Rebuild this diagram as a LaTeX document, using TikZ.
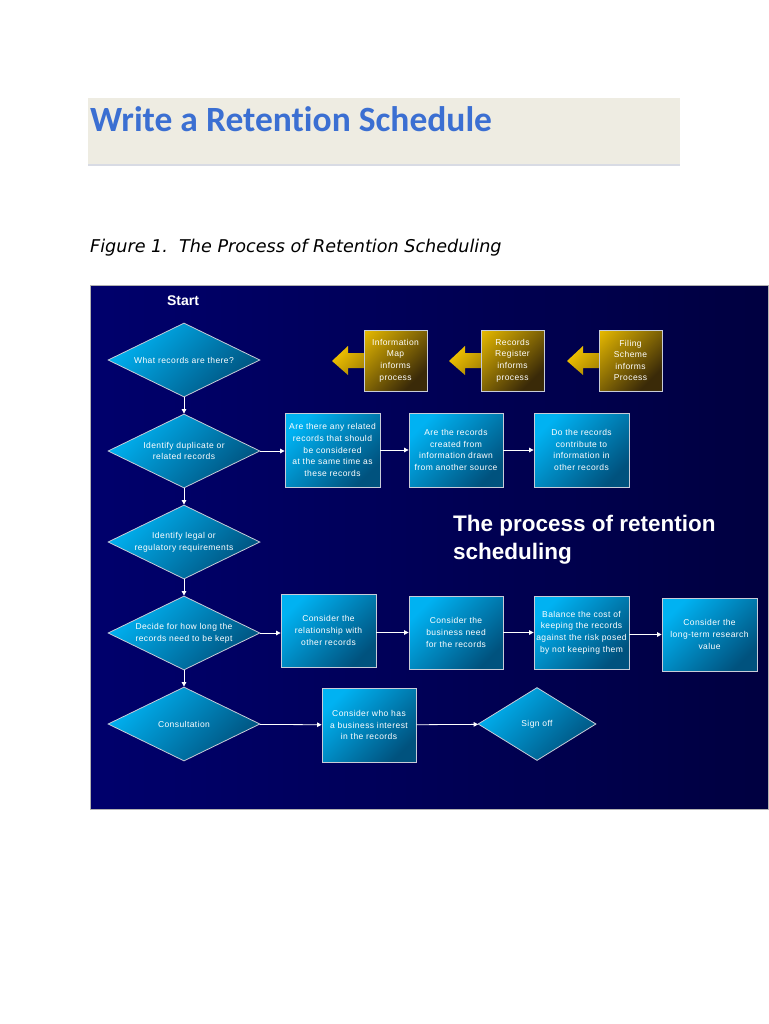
\documentclass[tikz,border=0pt]{standalone}
\usepackage{fontspec}
\setmainfont{Liberation Sans}
\newfontfamily\boxfont[LetterSpace=5]{Liberation Sans}
\newfontfamily\titlefont[Ligatures=NoCommon]{Carlito}
\newfontfamily\capfont{DejaVu Sans}
\usetikzlibrary{shapes.geometric,arrows.meta}
\definecolor{panelL}{HTML}{00006C}
\definecolor{panelR}{HTML}{000040}
\definecolor{cyanT}{HTML}{00B2F2}
\definecolor{cyanB}{HTML}{00527E}
\definecolor{goldT}{HTML}{F8C800}
\definecolor{goldB}{HTML}{3A2A08}
\definecolor{titleblue}{HTML}{3B6FD2}
\definecolor{tan}{HTML}{EEECE2}
\definecolor{edgegray}{HTML}{C8CCD8}
\tikzset{
  boxtxt/.style={text=white, font=\boxfont\fontsize{8.5}{11.6}\selectfont, align=center},
  procbox/.style={rectangle, draw=edgegray, line width=0.8pt, top color=cyanT, bottom color=cyanB, shading angle=45, inner sep=1pt, boxtxt},
  decision/.style={diamond, draw=edgegray, line width=0.8pt, top color=cyanT, bottom color=cyanB, shading angle=45, inner sep=0pt, aspect=2, minimum width=152pt, minimum height=74pt, boxtxt},
  goldbox/.style={rectangle, draw=edgegray, line width=0.8pt, minimum width=63pt, minimum height=61pt, inner sep=0pt, boxtxt},
  goldfill/.style={top color=goldT, bottom color=goldB, shading angle=45},
  arr/.style={draw=white, line width=0.8pt, -{Triangle[width=4.5pt,length=4.5pt]}}
}
\begin{document}
\begin{tikzpicture}[x=1pt,y=-1pt]
\useasboundingbox (0,0) rectangle (768,1024);
\fill[white] (0,0) rectangle (768,1024);
% title band
\fill[tan] (88,98) rectangle (680,164);
\fill[edgegray!70] (88,164) rectangle (680,166);
\node[anchor=base west, inner sep=0pt, text=titleblue, font=\titlefont\bfseries\fontsize{35.5}{40}\selectfont] (title) at (90,132) {Write a Retention Schedule};
\node[anchor=base west, inner sep=0pt, font=\capfont\itshape\fontsize{17.6}{20}\selectfont] (caption) at (90,252) {Figure 1.\ \ The Process of Retention Scheduling};
% panel
\shade[left color=panelL, right color=panelR, draw=gray!60, line width=0.6pt] (90,285) rectangle (768,809);
\node[text=white, font=\bfseries\fontsize{14}{16}\selectfont] (start) at (183,301) {Start};
\node[text=white, font=\bfseries\fontsize{22.5}{28}\selectfont, align=left, anchor=north west, inner sep=0pt] (heading) at (453,515) {The process of retention\\scheduling};
% decisions
\node[decision] (d1) at (184,360) {What records are there?};
\node[decision] (d2) at (184,451) {Identify duplicate or\\related records};
\node[decision] (d3) at (184,542) {Identify legal or\\regulatory requirements};
\node[decision] (d4) at (184,633) {Decide for how long the\\records need to be kept};
\node[decision] (d5) at (184,724) {Consultation};
\node[decision, minimum width=118pt, minimum height=73pt] (so) at (537,724) {Sign off};
% row 2 boxes
\node[procbox, minimum width=95pt, minimum height=74pt] (a) at (332.5,450) {Are there any related\\records that should\\be considered\\at the same time as\\these records};
\node[procbox, minimum width=94pt, minimum height=74pt] (b) at (456,450) {Are the records\\created from\\information drawn\\from another source};
\node[procbox, minimum width=95pt, minimum height=74pt] (c) at (581.5,450) {Do the records\\contribute to\\information in\\other records};
% row 4 boxes
\node[procbox, minimum width=95pt, minimum height=73pt] (dd) at (328.5,630.5) {Consider the\\relationship with\\other records};
\node[procbox, minimum width=94pt, minimum height=73pt] (e) at (456,632.5) {Consider the\\business need\\for the records};
\node[procbox, minimum width=95pt, minimum height=73pt] (f) at (581.5,632.5) {Balance the cost of\\keeping the records\\against the risk posed\\by not keeping them};
\node[procbox, minimum width=95pt, minimum height=73pt] (g) at (709.5,634.5) {Consider the\\long-term research\\value};
% row 5 box
\node[procbox, minimum width=94pt, minimum height=74pt] (h) at (369,725) {Consider who has\\a business interest\\in the records};
% gold arrows
\foreach \bx in {364,481,599}{
  \path[goldfill] (\bx-32,361) -- (\bx-16,346) -- (\bx-16,353) -- (\bx,353) -- (\bx,330) -- (\bx+63,330) -- (\bx+63,391) -- (\bx,391) -- (\bx,368) -- (\bx-16,368) -- (\bx-16,375) -- cycle;
}
\node[goldbox] (g1) at (395.5,360.5) {Information\\Map\\informs\\process};
\node[goldbox] (g2) at (512.5,360.5) {Records\\Register\\informs\\process};
\node[goldbox] (g3) at (630.5,360.5) {Filing\\Scheme\\informs\\Process};
% connectors
\draw[arr] (d1) -- (d2);
\draw[arr] (d2) -- (d3);
\draw[arr] (d3) -- (d4);
\draw[arr] (d4) -- (d5);
\draw[arr] (d2.east) -- (d2.east -| a.west);
\draw[arr] (a.east |- b.west) -- (b.west);
\draw[arr] (b) -- (c);
\draw[arr] (d4.east) -- (d4.east -| dd.west);
\draw[arr] (dd.east |- e.west) -- (e.west);
\draw[arr] (e) -- (f);
\draw[arr] (f.east |- g.west) -- (g.west);
\draw[arr] (d5) -- (h);
\draw[arr] (h) -- (so);
\end{tikzpicture}
\end{document}
